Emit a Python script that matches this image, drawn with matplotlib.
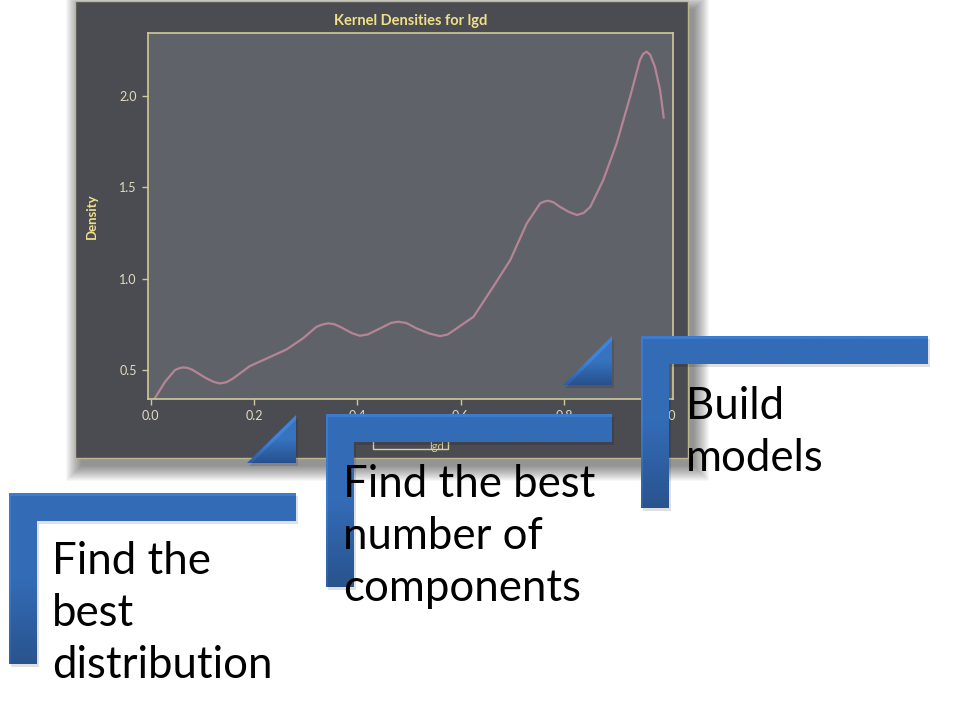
import numpy as np
import matplotlib.pyplot as plt
from matplotlib.patches import Rectangle, Polygon
from matplotlib.colors import LinearSegmentedColormap

# kernel density curve
lgd_x = [0.008, 0.028, 0.047, 0.055, 0.063, 0.072, 0.082, 0.108, 0.122, 0.134,
         0.147, 0.160, 0.192, 0.225, 0.263, 0.295, 0.321, 0.333, 0.344, 0.355,
         0.367, 0.390, 0.405, 0.420, 0.444, 0.465, 0.479, 0.495, 0.515, 0.540,
         0.560, 0.575, 0.592, 0.625, 0.663, 0.696, 0.728, 0.754, 0.762, 0.770,
         0.780, 0.792, 0.810, 0.825, 0.838, 0.851, 0.876, 0.902, 0.928, 0.947,
         0.953, 0.960, 0.967, 0.976, 0.986, 0.993]
density = [0.345, 0.436, 0.500, 0.510, 0.515, 0.512, 0.500, 0.455, 0.436, 0.427,
           0.434, 0.455, 0.522, 0.564, 0.613, 0.674, 0.737, 0.750, 0.756, 0.752,
           0.737, 0.702, 0.688, 0.695, 0.728, 0.758, 0.765, 0.758, 0.728, 0.700,
           0.686, 0.695, 0.728, 0.792, 0.956, 1.102, 1.303, 1.413, 1.423, 1.427,
           1.418, 1.394, 1.365, 1.349, 1.360, 1.394, 1.540, 1.741, 1.996, 2.197,
           2.230, 2.243, 2.225, 2.160, 2.033, 1.883]
x_ticks = [0.0, 0.2, 0.4, 0.6, 0.8, 1.0]
y_ticks = [0.5, 1.0, 1.5, 2.0]

steps = [
    ["Find the", "best", "distribution"],
    ["Find the best", "number of", "components"],
    ["Build", "models"],
]

fig = plt.figure(figsize=(9.6, 7.2), dpi=100)
fig.patch.set_facecolor("white")

# background layer in pixel coordinates
bg = fig.add_axes([0, 0, 1, 1], zorder=0)
bg.set_xlim(0, 960)
bg.set_ylim(720, 0)
bg.axis("off")

# soft drop shadow of the screenshot
for i in range(16):
    bg.add_patch(Rectangle((75 + 6 - i, 1 + 8 - i), 613 + 2 * i, 457 + 2 * i,
                           facecolor="black", edgecolor="none", alpha=0.03))
bg.add_patch(Rectangle((75, 1), 613, 457, facecolor="#4b4c51",
                       edgecolor="#bdb68a", lw=1))
bg.add_patch(Rectangle((373, 433), 75, 16, facecolor="none",
                       edgecolor="#d8d0a0", lw=1))
bg.text(437, 446, "lgd", color="#d8d0a0", fontsize=8, family="Lato",
        ha="center", va="center")

# the density chart itself
ax = fig.add_axes([148 / 960, 1 - 399 / 720, 525 / 960, 366 / 720], zorder=1)
ax.set_facecolor("#5f6268")
ax.plot(lgd_x, density, color="#b58595", lw=1.6, solid_joinstyle="round")
ax.set_xlim(-0.005, 1.011)
ax.set_ylim(0.342, 2.345)
ax.set_xticks(x_ticks)
ax.set_yticks(y_ticks)
ax.set_xticklabels([f"{t:.1f}" for t in x_ticks], family="Lato")
ax.set_yticklabels([f"{t:.1f}" for t in y_ticks], family="Lato")
ax.tick_params(direction="out", length=4, width=1, color="#cfc999",
               labelcolor="#e3dcc0", labelsize=9, pad=4)
for s in ax.spines.values():
    s.set_color("#cfc999")
    s.set_linewidth(1.2)
ax.set_title("Kernel Densities for lgd", color="#f0e08a", fontsize=10.5,
             fontweight="bold", family="Lato", pad=6)
ax.set_ylabel("Density", color="#f0e08a", fontsize=9.5, fontweight="bold",
              family="Lato")
ax.yaxis.set_label_coords((98 - 148) / 525, 0.5)

# overlay layer: blue step brackets and text
top = fig.add_axes([0, 0, 1, 1], zorder=3)
top.patch.set_alpha(0)
top.axis("off")


def shaded(verts, c_top, c_bot):
    xs = [v[0] for v in verts]
    ys = [v[1] for v in verts]
    sh = Polygon([(x + 1.5, y + 2.5) for x, y in verts], closed=True,
                 facecolor="black", edgecolor="none", alpha=0.12)
    top.add_patch(sh)
    poly = Polygon(verts, closed=True, facecolor="none", edgecolor="none")
    top.add_patch(poly)
    cmap = LinearSegmentedColormap.from_list("g", [c_top, c_top, c_bot])
    grad = np.linspace(0, 1, 256).reshape(-1, 1)
    im = top.imshow(grad, cmap=cmap, aspect="auto",
                    extent=(min(xs), max(xs), max(ys), min(ys)))
    im.set_clip_path(poly)


# (left, top, right end of bar, bottom of leg)
brackets = [(9, 493, 296, 664), (326, 414, 612, 587), (641, 336, 928, 508)]
thick = 28
for x0, y0, x1, y1 in brackets:
    verts = [(x0, y0), (x1, y0), (x1, y0 + thick), (x0 + thick, y0 + thick),
             (x0 + thick, y1), (x0, y1)]
    shaded(verts, "#3b7bd0", "#2f5fa2")

# small wedges at the ends of the previous steps
wedges = [(247, 296, 415, 463), (563, 612, 336, 385)]
for xl, xr, yt, yb in wedges:
    shaded([(xl, yb), (xr, yb), (xr, yt)], "#3f84da", "#2c5ca2")

text_pos = [(52, 574), (343, 497), (686, 419)]
for lines, (tx, ty) in zip(steps, text_pos):
    for k, line in enumerate(lines):
        top.text(tx, ty + 52 * k, line, fontsize=31.5, family="Lato",
                 color="black", ha="left", va="baseline")

top.set_xlim(0, 960)
top.set_ylim(720, 0)

fig.savefig("out.png", dpi=100)
